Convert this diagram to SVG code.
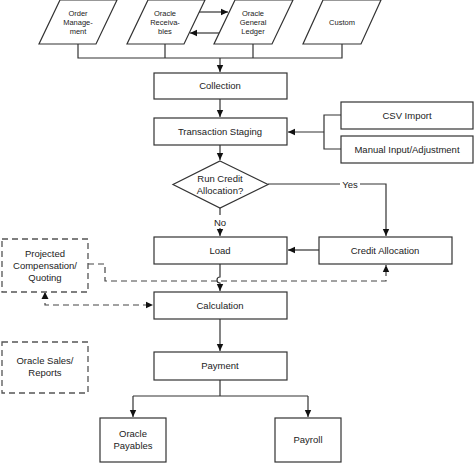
<svg xmlns="http://www.w3.org/2000/svg" width="474" height="463" viewBox="0 0 474 463">
<style>
.box{fill:#fff;stroke:#333;stroke-width:1.2}
.dbox{fill:#fff;stroke:#555;stroke-width:1.3;stroke-dasharray:6,4}
.ln{fill:none;stroke:#333;stroke-width:1.2}
.dl{fill:none;stroke:#444;stroke-width:1.2;stroke-dasharray:6,4}
text{font-family:"Liberation Sans",Arial,sans-serif;fill:#222;text-anchor:middle}
.t{font-size:9.5px}
.s{font-size:7.5px}
</style>
<defs>
<marker id="ah" markerWidth="8" markerHeight="8" refX="7" refY="4" orient="auto" markerUnits="userSpaceOnUse">
<path d="M0,0.8 L7,4 L0,7.2 Z" fill="#111"/>
</marker>
</defs>
<g id="connectors">
<path class="ln" d="M78,44 V58 H342 V44 M165,44 V58 M253,44 V58"/>
<path class="ln" d="M220,58 V72" marker-end="url(#ah)"/>
<path class="ln" d="M199,12 H228" marker-end="url(#ah)"/>
<path class="ln" d="M219,33 H190" marker-end="url(#ah)"/>
<path class="ln" d="M220,99 V117" marker-end="url(#ah)"/>
<path class="ln" d="M341,115 H324 V149 H341"/>
<path class="ln" d="M324,132 H288" marker-end="url(#ah)"/>
<path class="ln" d="M220,145 V160" marker-end="url(#ah)"/>
<path class="ln" d="M220,208 V215"/>
<path class="ln" d="M220,228 V236" marker-end="url(#ah)"/>
<path class="ln" d="M268,184 H340 M360,184 H386 V236" marker-end="url(#ah)"/>
<path class="ln" d="M319,250 H288" marker-end="url(#ah)"/>
<path class="ln" d="M220,264 V277 A3,3 0 0 0 220,283 V291" marker-end="url(#ah)"/>
<path class="ln" d="M220,319 V351" marker-end="url(#ah)"/>
<path class="ln" d="M220,380 V396 M133,396 H308"/>
<path class="ln" d="M133,396 V417" marker-end="url(#ah)"/>
<path class="ln" d="M308,396 V417" marker-end="url(#ah)"/>
<path class="dl" d="M88,264 H105 V281 H386 V265" marker-end="url(#ah)"/>
<path class="dl" d="M45,293 V305 H153" marker-end="url(#ah)"/>
<path d="M45,292 L41.5,299 L48.5,299 Z" fill="#111"/>
</g>
<g id="order-management">
<polygon class="box" points="60,0 117,0 96,44 39,44"/>
<text class="s" x="78" y="16">Order</text>
<text class="s" x="78" y="25">Manage-</text>
<text class="s" x="78" y="34">ment</text>
</g>
<g id="oracle-receivables">
<polygon class="box" points="148,0 205,0 184,44 127,44"/>
<text class="s" x="165" y="16">Oracle</text>
<text class="s" x="165" y="25">Receiva-</text>
<text class="s" x="165" y="34">bles</text>
</g>
<g id="oracle-general-ledger">
<polygon class="box" points="235,0 293,0 272,44 214,44"/>
<text class="s" x="253" y="16">Oracle</text>
<text class="s" x="253" y="25">General</text>
<text class="s" x="253" y="34">Ledger</text>
</g>
<g id="custom">
<polygon class="box" points="323,0 381,0 361,44 303,44"/>
<text class="s" x="342" y="25">Custom</text>
</g>
<g id="collection">
<rect class="box" x="154" y="73" width="133" height="26"/>
<text class="t" x="220" y="89">Collection</text>
</g>
<g id="transaction-staging">
<rect class="box" x="154" y="118" width="133" height="27"/>
<text class="t" x="220" y="135">Transaction Staging</text>
</g>
<g id="csv-import">
<rect class="box" x="341" y="102" width="132" height="27"/>
<text class="t" x="407" y="119">CSV Import</text>
</g>
<g id="manual-input">
<rect class="box" x="341" y="136" width="132" height="27"/>
<text class="t" x="407" y="153">Manual Input/Adjustment</text>
</g>
<g id="run-credit-allocation">
<polygon class="box" points="220,161 268,184.5 220,208 173,184.5"/>
<text class="t" x="220" y="182">Run Credit</text>
<text class="t" x="220" y="194">Allocation?</text>
</g>
<g id="labels">
<text class="t" x="350" y="188">Yes</text>
<text class="t" x="220" y="226">No</text>
</g>
<g id="load">
<rect class="box" x="154" y="237" width="133" height="27"/>
<text class="t" x="220" y="254">Load</text>
</g>
<g id="credit-allocation">
<rect class="box" x="319" y="237" width="133" height="27"/>
<text class="t" x="385" y="254">Credit Allocation</text>
</g>
<g id="projected-compensation">
<rect class="dbox" x="2" y="239" width="86" height="53"/>
<text class="t" x="45" y="257">Projected</text>
<text class="t" x="45" y="269">Compensation/</text>
<text class="t" x="45" y="281">Quoting</text>
</g>
<g id="calculation">
<rect class="box" x="154" y="292" width="133" height="27"/>
<text class="t" x="220" y="309">Calculation</text>
</g>
<g id="oracle-sales-reports">
<rect class="dbox" x="2" y="342" width="86" height="51"/>
<text class="t" x="45" y="364">Oracle Sales/</text>
<text class="t" x="45" y="376">Reports</text>
</g>
<g id="payment">
<rect class="box" x="154" y="352" width="133" height="28"/>
<text class="t" x="220" y="369">Payment</text>
</g>
<g id="oracle-payables">
<rect class="box" x="100" y="418" width="66" height="44"/>
<text class="t" x="133" y="437">Oracle</text>
<text class="t" x="133" y="449">Payables</text>
</g>
<g id="payroll">
<rect class="box" x="275" y="418" width="66" height="44"/>
<text class="t" x="308" y="443">Payroll</text>
</g>
</svg>
